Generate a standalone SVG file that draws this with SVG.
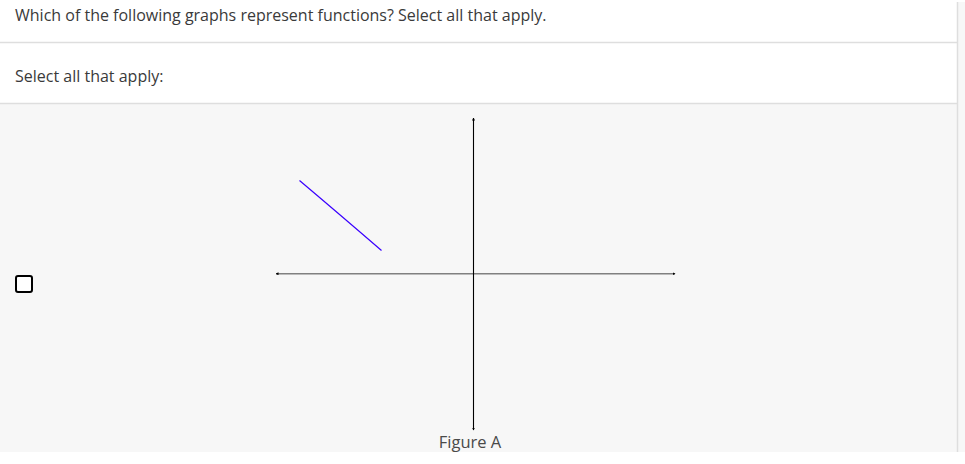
<svg xmlns="http://www.w3.org/2000/svg" width="965" height="464" viewBox="0 0 965 464">
<style>
.txt{font-family:"Open Sans","Liberation Sans",sans-serif;font-size:16px;fill:#3a3a3a}
.sep{stroke:#dedede;stroke-width:1.5}
</style>
<defs>
<marker id="ah" viewBox="0 0 6 6" refX="5" refY="3" markerWidth="3" markerHeight="3" orient="auto-start-reverse" markerUnits="userSpaceOnUse">
<path d="M0,0 L6,3 L0,6 Z" fill="#000"/>
</marker>
</defs>
<rect x="0" y="0" width="965" height="464" fill="#fff"/>
<rect x="0" y="103" width="957" height="349" fill="#f7f7f7"/>
<rect x="958" y="2" width="7" height="450" fill="#f7f7f7"/>
<line class="sep" x1="0" y1="42.5" x2="957" y2="42.5"/>
<line class="sep" x1="0" y1="103.5" x2="957" y2="103.5"/>
<line class="sep" x1="957.5" y1="2" x2="957.5" y2="452"/>
<text class="txt" x="15" y="21">Which of the following graphs represent functions? Select all that apply.</text>
<text class="txt" x="15" y="82">Select all that apply:</text>
<g id="checkbox">
<rect x="16" y="276" width="16" height="16" rx="2" fill="#fff" stroke="#000" stroke-width="2"/>
</g>
<g id="graph">
<line x1="276" y1="273.7" x2="675" y2="273.7" stroke="#808080" stroke-width="1.6" marker-start="url(#ah)" marker-end="url(#ah)"/>
<line x1="473.5" y1="118" x2="473.5" y2="430" stroke="#000" stroke-width="1.1" marker-start="url(#ah)" marker-end="url(#ah)"/>
<path d="M299.5,180.5 Q338,213 381.5,250.5" fill="none" stroke="#3a00ff" stroke-width="1.2"/>
</g>
<text x="470" y="448" text-anchor="middle" style="font-family:'Open Sans','Liberation Sans',sans-serif;font-size:16.5px;fill:#4a4a4a">Figure A</text>
</svg>
